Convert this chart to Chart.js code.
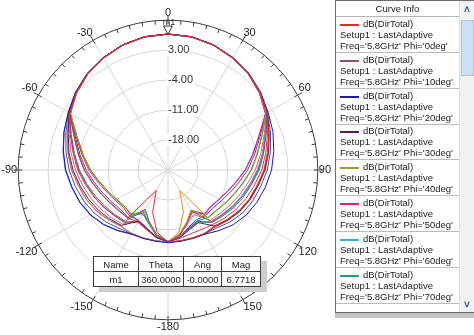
<!DOCTYPE html>
<html>
<head>
<meta charset="utf-8">
<script src="https://cdn.jsdelivr.net/npm/chart.js@4.4.0/dist/chart.umd.min.js"></script>
<style>
  html, body { margin: 0; padding: 0; background: #fff; }
  body { width: 474px; height: 335px; position: relative; overflow: hidden;
         font-family: "Liberation Sans", Arial, sans-serif; color: #222; }
  #wrap { position: absolute; left: 0; top: 0; width: 474px; height: 335px; }

  /* marker table */
  #marker { position: absolute; left: 93px; top: 256px; border-collapse: collapse;
            background: #fff; box-shadow: 6px 5px 0 #cdcdcd; font-size: 9.5px; }
  #marker td { border: 1px solid #3a3a3a; height: 14px; padding: 0; text-align: center; }

  /* curve info panel */
  #legend { position: absolute; left: 335px; top: 0; width: 138px; height: 311px;
            border: 1px solid #6a6a6a; background: #fff; box-shadow: 0 5px 0 #c4c4c4;
            overflow: hidden; font-size: 9.5px; }
  #legend .head { position: absolute; left: 0; top: 0; width: 123px; height: 15px;
                  border-bottom: 1px solid #b4b4b4; text-align: center; line-height: 16px; }
  #legend .item { position: absolute; left: 0; width: 123px; height: 35px;
                  border-bottom: 1px solid #bdbdbd; line-height: 10.5px; }
  #legend .sw { position: absolute; left: 4px; top: 7px; width: 19px; height: 2px; }
  #legend .l1 { position: absolute; left: 27px; top: 2px; white-space: nowrap; }
  #legend .l2 { position: absolute; left: 4px; top: 13px; white-space: nowrap; }
  #legend .l3 { position: absolute; left: 4px; top: 24px; white-space: nowrap; }
  #scroll { position: absolute; right: 0; top: 0; width: 14px; height: 100%;
            background: #f1f1f1; border-left: 1px solid #dcdcdc; }
  #scroll .up, #scroll .down { position: absolute; left: 0; width: 14px; height: 14px;
            color: #1c4fa8; font-size: 10px; text-align: center; line-height: 14px; font-weight: bold; }
  #scroll .up { top: 2px; }
  #scroll .down { bottom: 0; }
  #scroll .thumb { position: absolute; left: 1px; top: 19px; width: 11px; height: 54px;
            background: #cddff4; border: 1px solid #aac3e4; }
</style>
</head>
<body>
<div id="wrap"><canvas id="chart"></canvas></div>

<table id="marker">
  <tr><td style="width:44px">Name</td><td style="width:44px">Theta</td><td style="width:37px">Ang</td><td style="width:38px">Mag</td></tr>
  <tr><td>m1</td><td>360.0000</td><td>-0.0000</td><td>6.7718</td></tr>
</table>

<div id="legend">
  <div class="head">Curve Info</div>
  <div id="scroll"><div class="up">&#708;</div><div class="thumb"></div><div class="down">&#709;</div></div>
</div>

<script>
// =====================
// Data
// =====================
// theta labels, clockwise from the top, every 10 deg
const angleLabels = ["0", "", "", "30", "", "", "60", "", "", "90", "", "", "120", "", "", "150", "", "",
                     "-180", "", "", "-150", "", "", "-120", "", "", "-90", "", "", "-60", "", "", "-30", "", ""];
const tickValues = [3, -4, -11, -18];
const markerMag = 6.7718;

// dB(DirTotal) per phi cut, theta = 0,10..170,180,-170..-10
const phi0   = [6.77, 6.60, 6.10, 5.30, 4.35, 3.15, 1.75, 0.05, -1.30, -2.50, -3.80, -4.80, -5.80, -6.90, -7.90, -7.90, -8.10, -8.20, -8.20, -10.20, -14.50, -19.50, -10.40, -10.20, -9.50, -8.50, -7.20, -5.50, -3.80, -1.65, 1.45, 3.00, 4.25, 5.20, 6.05, 6.60];
const phi10  = [6.76, 6.58, 6.08, 5.27, 4.32, 3.08, 1.65, -0.60, -2.30, -3.70, -5.20, -6.30, -7.30, -8.30, -9.00, -11.20, -10.40, -9.10, -8.30, -9.70, -12.20, -14.30, -9.40, -8.80, -8.00, -7.00, -5.80, -4.30, -2.80, -0.95, 1.55, 3.05, 4.30, 5.25, 6.08, 6.59];
const phi20  = [6.78, 6.62, 6.12, 5.35, 4.45, 3.25, 2.00, 1.10, 0.10, -0.80, -1.90, -2.90, -3.90, -5.10, -6.50, -7.70, -8.00, -8.10, -8.00, -8.10, -8.00, -7.80, -6.60, -5.30, -4.10, -3.10, -2.20, -1.10, -0.20, 0.85, 1.90, 3.20, 4.40, 5.30, 6.10, 6.61];
const phi30  = [6.77, 6.60, 6.10, 5.30, 4.36, 3.14, 1.74, 0.10, -1.20, -2.40, -3.70, -4.70, -5.70, -6.80, -7.90, -10.80, -10.20, -9.00, -8.20, -9.10, -10.40, -11.20, -8.10, -7.20, -6.20, -5.20, -4.10, -2.80, -1.50, -0.20, 1.70, 3.12, 4.33, 5.28, 6.09, 6.60];
const phi40  = [6.74, 6.57, 6.05, 5.20, 4.25, 3.00, 1.45, -1.60, -3.80, -5.50, -7.20, -8.50, -9.50, -10.20, -10.40, -14.20, -12.10, -9.70, -8.30, -9.50, -11.90, -13.80, -11.60, -11.80, -11.20, -10.20, -8.80, -6.90, -4.90, -2.40, 1.30, 2.90, 4.20, 5.15, 6.00, 6.55];
const phi50  = [6.75, 6.56, 6.02, 5.17, 4.22, 2.92, 1.32, -2.40, -4.90, -6.90, -8.80, -10.20, -11.20, -11.80, -11.50, -13.60, -11.80, -9.50, -8.20, -9.00, -10.20, -10.90, -9.20, -8.60, -7.70, -6.70, -5.60, -4.10, -2.60, -0.85, 1.58, 3.04, 4.29, 5.24, 6.08, 6.59];
const phi60  = [6.76, 6.59, 6.09, 5.26, 4.31, 3.06, 1.62, -0.75, -2.50, -4.05, -5.60, -6.70, -7.60, -8.50, -9.10, -10.90, -10.30, -9.00, -8.20, -9.60, -12.10, -14.40, -10.30, -10.10, -9.40, -8.40, -7.10, -5.40, -3.70, -1.60, 1.47, 3.01, 4.26, 5.21, 6.06, 6.60];
const phi70  = [6.75, 6.58, 6.06, 5.21, 4.26, 3.01, 1.47, -1.70, -3.90, -5.60, -7.30, -8.60, -9.60, -10.30, -10.50, -11.30, -10.60, -9.10, -8.25, -9.40, -11.70, -13.20, -11.40, -11.70, -11.10, -10.10, -8.70, -6.80, -4.80, -2.30, 1.33, 2.93, 4.22, 5.16, 6.01, 6.56];
const phi80  = [6.77, 6.60, 6.05, 5.20, 4.25, 3.00, 1.45, -1.65, -3.80, -5.50, -7.20, -8.50, -9.50, -10.20, -10.40, -19.50, -14.50, -10.20, -8.20, -8.20, -8.10, -7.90, -7.80, -6.80, -5.70, -4.70, -3.70, -2.40, -1.20, 0.10, 1.76, 3.16, 4.36, 5.31, 6.10, 6.60];
const phi90  = [6.76, 6.59, 6.09, 5.29, 4.34, 3.14, 1.76, 0.00, -1.40, -2.60, -3.90, -4.90, -5.90, -7.00, -8.00, -7.90, -8.10, -8.20, -8.10, -9.00, -10.40, -11.10, -9.00, -8.50, -7.60, -6.60, -5.40, -3.90, -2.50, -0.70, 1.62, 3.06, 4.31, 5.26, 6.09, 6.59];
const phi100 = [6.75, 6.58, 6.08, 5.25, 4.30, 3.04, 1.58, -0.85, -2.60, -4.10, -5.60, -6.80, -7.80, -8.70, -9.30, -13.90, -12.00, -9.60, -8.30, -9.10, -10.30, -11.00, -10.30, -10.10, -9.40, -8.40, -7.10, -5.40, -3.70, -1.60, 1.44, 2.99, 4.24, 5.19, 6.04, 6.58];
const phi110 = [6.74, 6.56, 6.01, 5.16, 4.21, 2.91, 1.30, -2.50, -5.00, -7.00, -8.90, -10.30, -11.30, -11.90, -11.70, -14.10, -12.00, -9.70, -8.20, -8.20, -8.10, -7.90, -7.90, -6.90, -5.80, -4.80, -3.80, -2.50, -1.30, 0.05, 1.75, 3.15, 4.35, 5.30, 6.10, 6.60];
const phi120 = [6.77, 6.61, 6.11, 5.31, 4.37, 3.17, 1.78, 0.15, -1.10, -2.30, -3.60, -4.60, -5.60, -6.70, -7.70, -7.80, -8.00, -8.10, -8.10, -9.10, -10.30, -11.10, -11.50, -11.80, -11.20, -10.20, -8.80, -6.90, -4.90, -2.40, 1.31, 2.91, 4.21, 5.16, 6.01, 6.56];
const phi130 = [6.78, 6.61, 6.11, 5.28, 4.33, 3.08, 1.64, -0.70, -2.40, -3.90, -5.40, -6.60, -7.60, -8.50, -9.10, -11.10, -10.40, -9.00, -8.10, -8.20, -8.00, -7.70, -6.50, -5.20, -4.00, -3.00, -2.10, -1.00, -0.10, 0.90, 1.92, 3.22, 4.42, 5.32, 6.12, 6.62];
const phi140 = [6.76, 6.58, 6.07, 5.24, 4.29, 3.04, 1.56, -1.10, -3.00, -4.60, -6.20, -7.40, -8.40, -9.20, -9.60, -13.00, -11.60, -9.40, -8.30, -9.00, -10.50, -11.30, -8.50, -7.70, -6.80, -5.80, -4.70, -3.40, -2.00, -0.45, 1.66, 3.08, 4.32, 5.27, 6.09, 6.59];
const phi150 = [6.75, 6.57, 6.03, 5.18, 4.23, 2.95, 1.38, -2.10, -4.50, -6.40, -8.20, -9.60, -10.60, -11.30, -11.20, -11.60, -10.80, -9.20, -8.20, -9.50, -11.80, -13.50, -10.50, -10.60, -9.90, -8.90, -7.60, -5.90, -4.10, -1.90, 1.42, 2.98, 4.24, 5.19, 6.04, 6.58];
const phi160 = [6.77, 6.60, 6.10, 5.29, 4.34, 3.12, 1.70, -0.25, -1.80, -3.10, -4.50, -5.60, -6.60, -7.60, -8.50, -9.00, -9.20, -8.80, -8.20, -9.20, -10.60, -11.40, -11.00, -11.40, -10.80, -9.80, -8.40, -6.50, -4.60, -2.10, 1.37, 2.95, 4.22, 5.17, 6.02, 6.57];
const phi170 = [6.78, 6.61, 6.11, 5.32, 4.40, 3.20, 1.85, 0.50, -0.70, -1.80, -3.00, -3.90, -4.90, -6.10, -7.30, -7.80, -8.10, -8.20, -8.10, -8.20, -8.10, -7.90, -7.20, -6.10, -5.00, -4.00, -3.00, -1.90, -0.80, 0.40, 1.82, 3.18, 4.38, 5.30, 6.10, 6.61];

const curves = [phi0, phi10, phi20, phi30, phi40, phi50, phi60, phi70, phi80, phi90,
                phi100, phi110, phi120, phi130, phi140, phi150, phi160, phi170];
const phiNames = ["0deg", "10deg", "20deg", "30deg", "40deg", "50deg", "60deg", "70deg", "80deg", "90deg",
                  "100deg", "110deg", "120deg", "130deg", "140deg", "150deg", "160deg", "170deg"];
const curveColors = ["#e8262d", "#8e4f72", "#1c1c9c", "#5e1d4c", "#9c9c22", "#d8287c", "#2cb4cc", "#249494",
                     "#e88a22", "#3c9c3c", "#9a5c2e", "#8a44c8", "#c81e46", "#3a58d8",
                     "#ee5a8c", "#6a3aa8", "#d23c3c", "#4050b8"];

// =====================
// Curve Info panel (first 8 visible)
// =====================
const legend = document.getElementById("legend");
for (let i = 0; i < 8; i++) {
  const div = document.createElement("div");
  div.className = "item";
  div.style.top = (16 + i * 35.8) + "px";
  div.innerHTML = `<div class="sw" style="background:${curveColors[i]}"></div>` +
    `<div class="l1">dB(DirTotal)</div>` +
    `<div class="l2">Setup1 : LastAdaptive</div>` +
    `<div class="l3">Freq='5.8GHz' Phi='${phiNames[i]}'</div>`;
  legend.appendChild(div);
}

// =====================
// Polar decorations: rim ticks, dB labels, marker m1
// =====================
const polarDecor = {
  id: "polarDecor",
  afterDraw(chart) {
    const s = chart.scales.r;
    const ctx = chart.ctx;
    const cx = s.xCenter, cy = s.yCenter, R = s.drawingArea;
    ctx.save();
    ctx.strokeStyle = "#3a3a3a";
    ctx.lineWidth = 1;
    for (let a = 0; a < 360; a += 5) {
      const rad = a * Math.PI / 180;
      const sx = Math.sin(rad), sy = -Math.cos(rad);
      const r0 = R - 4, r1 = a % 30 === 0 ? R + 5 : R;
      ctx.beginPath();
      ctx.moveTo(cx + sx * r0, cy + sy * r0);
      ctx.lineTo(cx + sx * r1, cy + sy * r1);
      ctx.stroke();
    }

    ctx.font = "11px 'Liberation Sans', Arial, sans-serif";
    ctx.textBaseline = "middle";
    ctx.textAlign = "left";
    tickValues.forEach(v => {
      const y = cy - s.getDistanceFromCenterForValue(v);
      const txt = v.toFixed(2);
      const w = ctx.measureText(txt).width;
      ctx.fillStyle = "#fff";
      ctx.fillRect(cx - 1, y - 6, w + 2, 12);
      ctx.fillStyle = "#333";
      ctx.fillText(txt, cx, y);
    });

    // marker m1 at theta 0
    const p = s.getPointPositionForValue(0, markerMag);
    ctx.strokeStyle = "#333";
    ctx.fillStyle = "#fff";
    ctx.beginPath();
    ctx.moveTo(p.x, p.y);
    ctx.lineTo(p.x - 4.5, p.y - 8);
    ctx.lineTo(p.x + 4.5, p.y - 8);
    ctx.closePath();
    ctx.fill();
    ctx.stroke();
    ctx.fillStyle = "#333";
    ctx.font = "9px 'Liberation Sans', Arial, sans-serif";
    ctx.textAlign = "center";
    ctx.textBaseline = "alphabetic";
    ctx.fillText("m1", p.x + 1, p.y - 9);
    ctx.restore();
  }
};

// =====================
// Chart.js
// =====================
const ctx = document.getElementById("chart").getContext("2d");
new Chart(ctx, {
  type: "radar",
  data: {
    labels: angleLabels,
    datasets: curves.map((c, i) => ({
      label: "Phi=" + phiNames[i],
      data: c,
      borderColor: curveColors[i],
      borderWidth: 1,
      pointRadius: 0,
      fill: false
    }))
  },
  options: {
    responsive: true,
    maintainAspectRatio: false,
    animation: false,
    layout: { padding: { left: 0, right: 140, top: 6, bottom: 1 } },
    plugins: { legend: { display: false }, tooltip: { enabled: false } },
    scales: {
      r: {
        min: -25,
        max: 10,
        ticks: { stepSize: 7, display: false },
        grid: {
          circular: true,
          color: c => (c.tick && c.tick.value === 10) ? "#3a3a3a" : "#d6d6d6",
          lineWidth: 1
        },
        angleLines: {
          color: "#d6d6d6",
          lineWidth: c => (c.index % 3 === 0 ? 1 : 0)
        },
        pointLabels: {
          color: "#222",
          padding: 1,
          font: { size: 11, family: "'Liberation Sans', Arial, sans-serif" }
        }
      }
    }
  },
  plugins: [polarDecor]
});
</script>
</body>
</html>
